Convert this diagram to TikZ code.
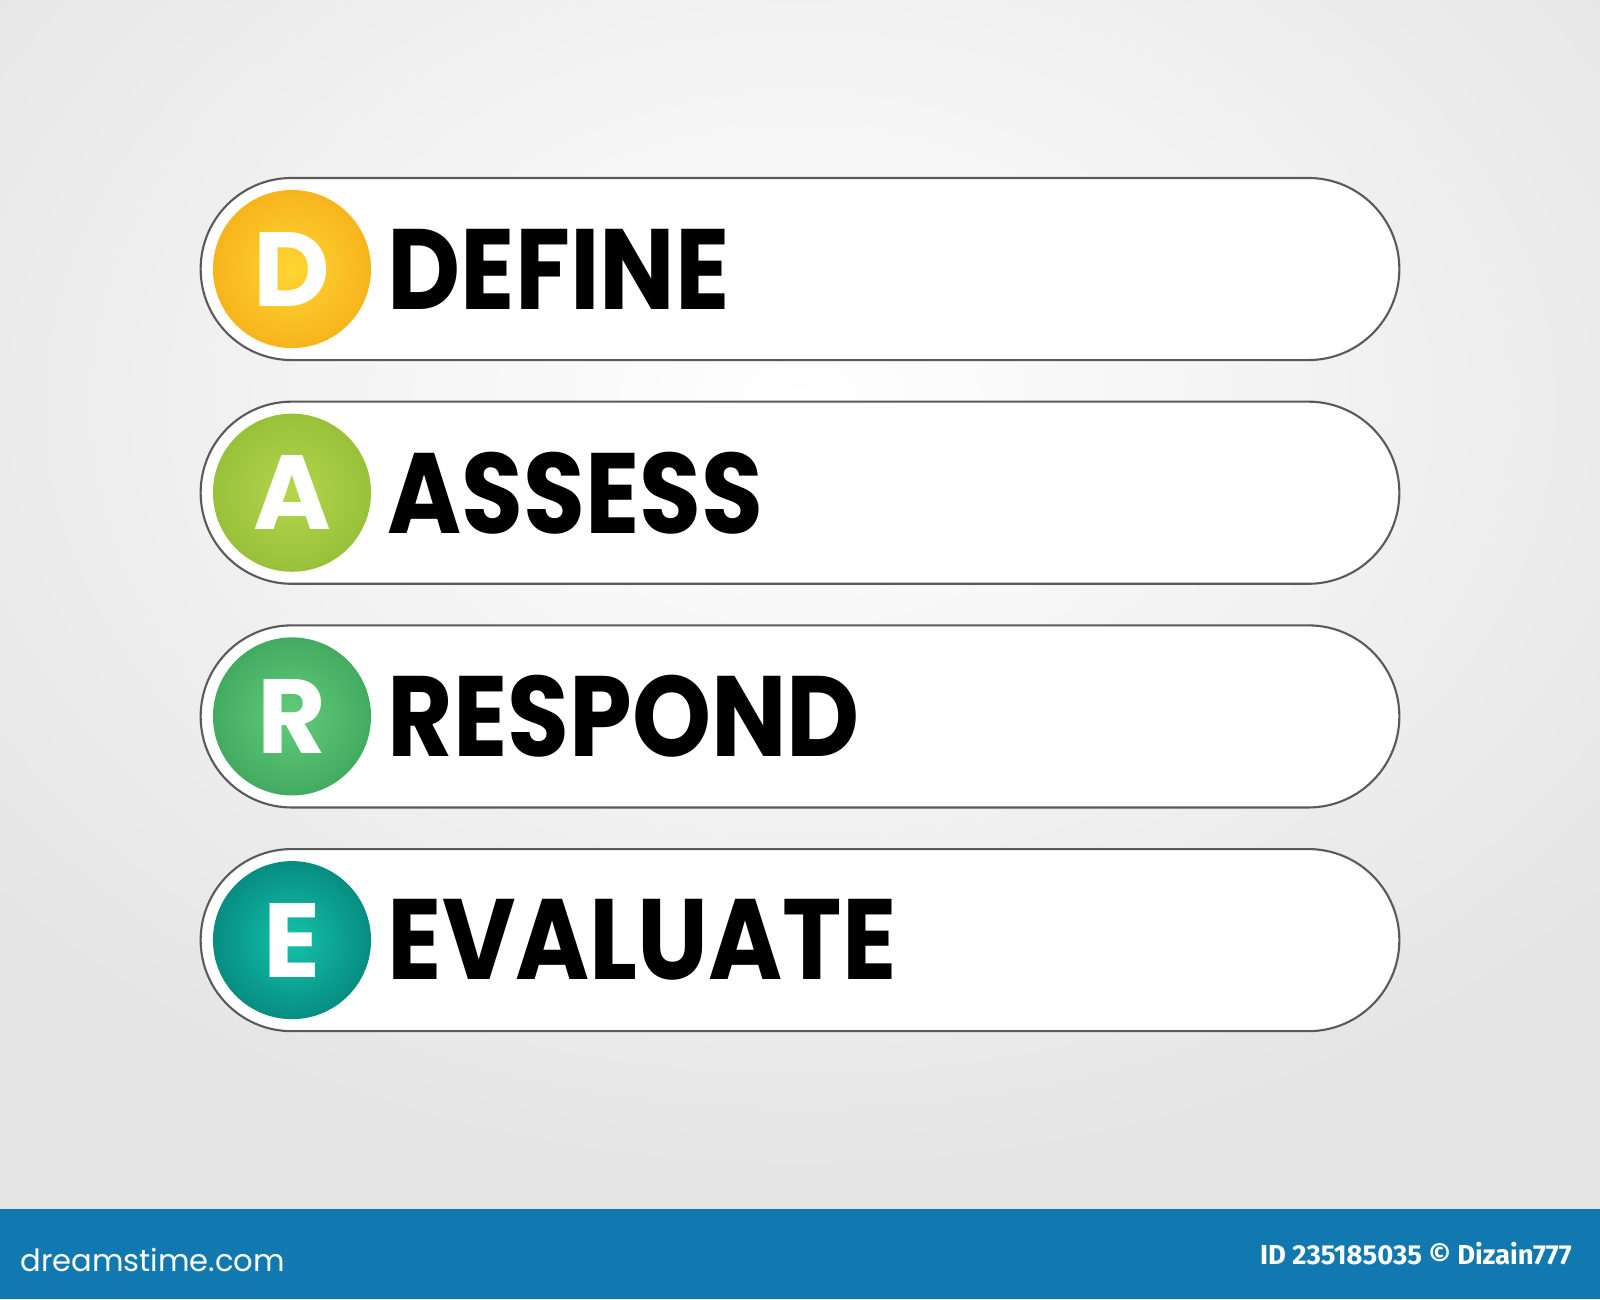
\documentclass[tikz,border=0pt]{standalone}
\usepackage{fontspec}
\setmainfont{Poppins}
\newfontfamily\footfont{Fira Sans}
\usetikzlibrary{shapes.misc, positioning}
\definecolor{bgedge}{HTML}{E4E4E4}
\definecolor{pillline}{HTML}{5A5A5A}
\definecolor{bandblue}{HTML}{1178B0}
\definecolor{dout}{HTML}{F7B41C}
\definecolor{din}{HTML}{FFD630}
\definecolor{aout}{HTML}{98C13A}
\definecolor{ain}{HTML}{B4D64C}
\definecolor{rout}{HTML}{42AB60}
\definecolor{rin}{HTML}{62CC7C}
\definecolor{eout}{HTML}{078D82}
\definecolor{ein}{HTML}{14C2AA}
\tikzstyle{pillbox} = [rounded rectangle, draw=pillline, line width=0.6pt, fill=white, minimum width=11.98cm, minimum height=1.82cm, inner sep=0pt]
\tikzstyle{badge} = [circle, minimum size=1.58cm, inner sep=0pt, text=white, font=\bfseries\fontsize{30}{30}\selectfont]
\tikzstyle{word} = [anchor=west, inner sep=0pt, font=\bfseries\fontsize{32.5}{32.5}\selectfont]
\newcommand{\squeeze}[1]{\scalebox{0.88}[1]{#1}}

\begin{document}
\begin{tikzpicture}[x=0.01cm, y=-0.01cm]
    \useasboundingbox (0,0) rectangle (1600,1299);
    \shade[inner color=white, outer color=bgedge] (-300,-400) rectangle (1900,1209);
    \fill[bandblue] (0,1209) rectangle (1600,1299);

    \foreach \i/\letter/\name/\cout/\cin in {0/D/DEFINE/dout/din, 1/A/ASSESS/aout/ain, 2/R/RESPOND/rout/rin, 3/E/EVALUATE/eout/ein} {
        \node (pill\i) [pillbox] at (800,269+223.7*\i) {};
        \node (badge\i) [badge, shade, inner color=\cin, outer color=\cout] at (292,269+223.7*\i) {\letter};
        \node (word\i) [word] at (387,269+223.7*\i) {\squeeze{\name}};
    }

    \node (site) [anchor=west, text=white, font=\fontsize{8.7}{8.7}\selectfont] at (8,1260) {dreamstime.com};
    \node (stockid) [anchor=east, text=white, font=\footfont\bfseries\fontsize{7.8}{7.8}\selectfont] at (1584,1254) {ID 235185035 © Dizain777};
\end{tikzpicture}
\end{document}
